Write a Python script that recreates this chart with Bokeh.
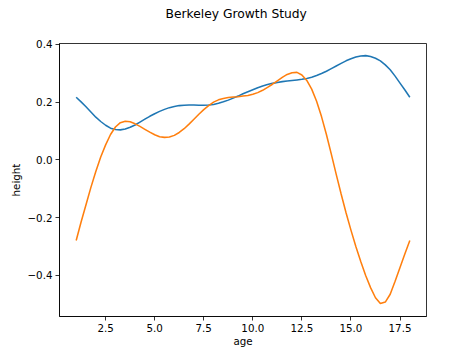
from bokeh.plotting import figure
from bokeh.models import Range1d, FixedTicker, Title
from bokeh.embed import file_html
from bokeh.resources import INLINE

title_text = "Berkeley Growth Study"
x_label = "age"
y_label = "height"

blue_age = [1.0, 1.25, 1.5, 1.75, 2.0, 2.25, 2.5, 2.75, 3.0, 3.25, 3.5, 3.75,
            4.0, 4.25, 4.5, 4.75, 5.0, 5.25, 5.5, 5.75, 6.0, 6.25, 6.5, 6.75,
            7.0, 7.25, 7.5, 7.75, 8.0, 8.25, 8.5, 8.75, 9.0, 9.25, 9.5, 9.75,
            10.0, 10.25, 10.5, 10.75, 11.0, 11.25, 11.5, 11.75, 12.0, 12.25, 12.5, 12.75,
            13.0, 13.25, 13.5, 13.75, 14.0, 14.25, 14.5, 14.75, 15.0, 15.25, 15.5, 15.75,
            16.0, 16.25, 16.5, 16.75, 17.0, 17.25, 17.5, 17.75, 18.0]
blue_height = [0.217, 0.201, 0.184, 0.166, 0.148, 0.133, 0.120, 0.110, 0.105, 0.104,
               0.107, 0.113, 0.121, 0.131, 0.141, 0.151, 0.160, 0.168, 0.175, 0.181,
               0.185, 0.188, 0.189, 0.190, 0.190, 0.189, 0.189, 0.190, 0.192, 0.196,
               0.201, 0.207, 0.214, 0.221, 0.229, 0.236, 0.243, 0.250, 0.256, 0.261,
               0.265, 0.268, 0.271, 0.273, 0.275, 0.277, 0.279, 0.282, 0.286, 0.292,
               0.299, 0.307, 0.316, 0.325, 0.334, 0.343, 0.350, 0.356, 0.360, 0.361,
               0.358, 0.352, 0.343, 0.329, 0.312, 0.290, 0.266, 0.242, 0.217]

orange_age = [1.0, 1.25, 1.5, 1.75, 2.0, 2.25, 2.5, 2.75, 3.0, 3.25, 3.5, 3.75,
              4.0, 4.25, 4.5, 4.75, 5.0, 5.25, 5.5, 5.75, 6.0, 6.25, 6.5, 6.75,
              7.0, 7.25, 7.5, 7.75, 8.0, 8.25, 8.5, 8.75, 9.0, 9.25, 9.5, 9.75,
              10.0, 10.25, 10.5, 10.75, 11.0, 11.25, 11.5, 11.75, 12.0, 12.25, 12.5, 12.75,
              13.0, 13.25, 13.5, 13.75, 14.0, 14.25, 14.5, 14.75, 15.0, 15.25, 15.5, 15.75,
              16.0, 16.25, 16.5, 16.75, 17.0, 17.25, 17.5, 17.75, 18.0]
orange_height = [-0.279, -0.215, -0.155, -0.095, -0.040, 0.010, 0.052, 0.088, 0.114, 0.129,
                 0.134, 0.132, 0.125, 0.116, 0.106, 0.096, 0.087, 0.080, 0.078, 0.079,
                 0.085, 0.095, 0.108, 0.124, 0.141, 0.158, 0.174, 0.188, 0.200, 0.208,
                 0.213, 0.216, 0.218, 0.219, 0.221, 0.223, 0.227, 0.233, 0.241, 0.251,
                 0.262, 0.274, 0.286, 0.296, 0.302, 0.303, 0.294, 0.275, 0.245, 0.203,
                 0.150, 0.088, 0.020, -0.050, -0.118, -0.183, -0.243, -0.300, -0.352, -0.400,
                 -0.442, -0.477, -0.497, -0.492, -0.465, -0.420, -0.372, -0.325, -0.279]

x_ticks = [2.5, 5.0, 7.5, 10.0, 12.5, 15.0, 17.5]
x_tick_labels = ["2.5", "5.0", "7.5", "10.0", "12.5", "15.0", "17.5"]
y_ticks = [-0.4, -0.2, 0.0, 0.2, 0.4]
y_tick_labels = ["\u22120.4", "\u22120.2", "0.0", "0.2", "0.4"]

FONT = "DejaVu Sans"

p = figure(output_backend="svg", toolbar_location=None,
           frame_width=367, frame_height=273,
           x_range=Range1d(0.15, 18.85), y_range=Range1d(-0.542, 0.403),
           min_border_left=59, min_border_top=43, min_border_right=20,
           min_border_bottom=0)

p.title.text = title_text
p.title.align = "left"
p.title.offset = 106
p.title.standoff = 6
p.title.text_font = FONT
p.title.text_font_size = "12.3px"
p.title.text_font_style = "normal"
p.title.text_color = "black"

# blank spacer between the title and the frame
p.add_layout(Title(text=" ", text_font_size="1px", standoff=17), "above")

p.line(blue_age, blue_height, line_color="#1f77b4", line_width=1.55)
p.line(orange_age, orange_height, line_color="#ff7f0e", line_width=1.55)

p.xgrid.visible = False
p.ygrid.visible = False
p.outline_line_color = "black"
p.outline_line_width = 0.8
p.outline_line_alpha = 1.0

for ax, ticks, labels in ((p.xaxis[0], x_ticks, x_tick_labels), (p.yaxis[0], y_ticks, y_tick_labels)):
    ax.ticker = FixedTicker(ticks=ticks)
    ax.major_label_overrides = dict(zip(ticks, labels))
    ax.minor_tick_line_color = None
    ax.major_tick_in = 0
    ax.major_tick_out = 4
    ax.major_tick_line_width = 0.8
    ax.major_tick_line_color = "black"
    ax.axis_line_color = "black"
    ax.axis_line_width = 0.8
    ax.major_label_text_font = FONT
    ax.major_label_text_font_size = "10.3px"
    ax.major_label_text_color = "black"
    ax.major_label_standoff = 3
    ax.axis_label_text_font = FONT
    ax.axis_label_text_font_size = "10.3px"
    ax.axis_label_text_font_style = "normal"
    ax.axis_label_text_color = "black"
    ax.axis_label_standoff = 2

p.xaxis.axis_label_standoff = 0
p.xaxis.axis_label = x_label
p.yaxis.axis_label = y_label

open("out.html", "w").write(file_html(p, INLINE))
